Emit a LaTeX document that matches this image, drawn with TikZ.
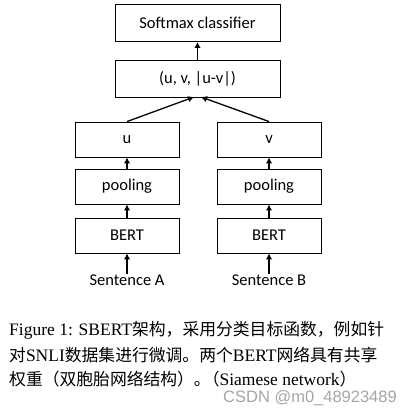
\documentclass[tikz,border=0pt]{standalone}
\usepackage{fontspec}
\setmainfont{Liberation Serif}
\newfontfamily\boxfont{Carlito}
\newfontfamily\cjk{Noto Sans CJK SC}
\newfontfamily\wmfont{Liberation Sans}
\usetikzlibrary{arrows.meta}
\newcommand\zh[1]{{\cjk\fontsize{16.8}{18}\selectfont #1}}
\begin{document}
\begin{tikzpicture}[x=1pt,y=-1pt,
  blk/.style={draw, line width=0.9pt, minimum width=104pt, minimum height=35pt, inner sep=0pt, font=\boxfont\fontsize{16.5}{18}\selectfont},
  wide/.style={blk, minimum width=165pt, minimum height=37pt},
  arr/.style={line width=1.3pt, -{Latex[length=6pt,width=6.5pt]}},
  lbl/.style={inner sep=0pt, font=\boxfont\fontsize{16.5}{18}\selectfont},
  captxt/.style={inner sep=0pt, anchor=base west, font=\fontsize{17.5}{20}\selectfont},
]
\fill[white] (0,0) rectangle (413,415);
\node[wide] (soft) at (197.5,23) {Softmax classifier};
\node[wide] (cat) at (197.5,79) {(u, v, |u-v|)};
\node[blk] (u) at (127,139.5) {u};
\node[blk] (v) at (269,139.5) {v};
\node[blk] (pa) at (127,186.5) {pooling};
\node[blk] (pb) at (269,186.5) {pooling};
\node[blk] (ba) at (127,235.5) {BERT};
\node[blk] (bb) at (269,235.5) {BERT};
\node[lbl] (sa) at (127,280) {Sentence A};
\node[lbl] (sb) at (269,280) {Sentence B};
\coordinate (catL) at (194,97);
\coordinate (catR) at (201,97);
\draw[arr] (cat.north) -- (soft.south);
\draw[arr] (u.north) -- (catL);
\draw[arr] (v.north) -- (catR);
\draw[arr] (pa.north) -- (u.south);
\draw[arr] (pb.north) -- (v.south);
\draw[arr] (ba.north) -- (pa.south);
\draw[arr] (bb.north) -- (pb.south);
\draw[arr] (sa.north) -- (ba.south);
\draw[arr] (sb.north) -- (bb.south);
\node[captxt] (c1) at (9,335) {Figure 1: SBERT\zh{架构，采用分类目标函数，例如针}};
\node[captxt] (c2) at (9,361) {\zh{对}SNLI\zh{数据集进行微调。两个}BERT\zh{网络具有共享}};
\node[captxt] (c3) at (9,385) {\zh{权重（双胞胎网络结构）。\hspace{-8pt}（}Siamese network\zh{）}};
\node[inner sep=0pt, anchor=base west, text=black!35, font=\wmfont\fontsize{16.5}{18}\selectfont] (wm) at (223,402) {CSDN @m0\_48923489};
\end{tikzpicture}
\end{document}
